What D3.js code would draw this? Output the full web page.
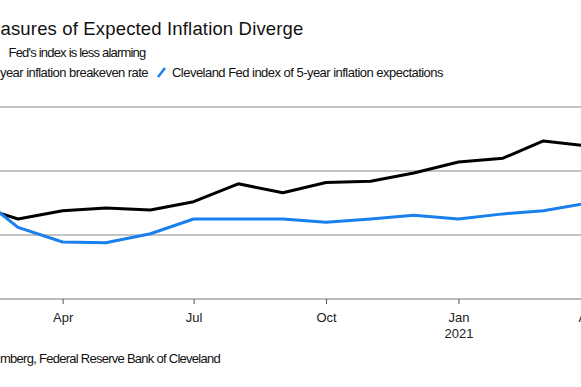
<!DOCTYPE html>
<html>
<head>
<meta charset="utf-8">
<script src="https://cdn.jsdelivr.net/npm/d3@7"></script>
<style>
  body { margin: 0; background: #fff; overflow: hidden; }
  svg { display: block; font-family: "Liberation Sans", Arial, sans-serif; }
  text { white-space: pre; }
</style>
</head>
<body>
<svg id="chart" width="581" height="387"></svg>
<script>
// monthly observations, first of month
const months = ["2020-02-01","2020-03-01","2020-04-01","2020-05-01","2020-06-01","2020-07-01","2020-08-01",
  "2020-09-01","2020-10-01","2020-11-01","2020-12-01","2021-01-01","2021-02-01","2021-03-01","2021-04-01"];
const breakeven = [1.73, 1.625, 1.69, 1.71, 1.695, 1.76, 1.90, 1.83, 1.91, 1.92, 1.985, 2.07, 2.10, 2.235, 2.195];
const clevelandFed = [1.82, 1.56, 1.445, 1.44, 1.51, 1.625, 1.625, 1.625, 1.60, 1.625, 1.655, 1.625, 1.665, 1.69, 1.75];
const gridValues = [1.0, 1.5, 2.0, 2.5];
const tickDates = ["2020-04-01","2020-07-01","2020-10-01","2021-01-01","2021-04-01"];

const parse = d3.timeParse("%Y-%m-%d");
const svg = d3.select("#chart");

const x = d3.scaleTime()
  .domain([parse("2020-03-01"), parse("2021-04-01")])
  .range([18, 588]);
const y = d3.scaleLinear()
  .domain([1.0, 2.5])
  .range([299, 107]);

// gridlines
svg.append("g")
  .selectAll("line")
  .data(gridValues)
  .join("line")
  .attr("x1", -10).attr("x2", 600)
  .attr("y1", d => y(d)).attr("y2", d => y(d))
  .style("stroke", d => d === 1.0 ? "#777" : "#8a8a8a")
  .style("stroke-width", 1.2);

// x axis
const xAxis = d3.axisBottom(x)
  .tickValues(tickDates.map(parse))
  .tickSize(5)
  .tickPadding(9)
  .tickFormat(d => d3.timeFormat("%b")(d));
const gx = svg.append("g")
  .attr("transform", "translate(0," + y(1.0) + ")")
  .call(xAxis);
gx.select(".domain").remove();
gx.selectAll(".tick line").style("stroke", "#555");
gx.selectAll(".tick text")
  .style("font-size", "13px")
  .style("fill", "#222")
  .style("font-family", "Liberation Sans, Arial, sans-serif");
gx.selectAll(".tick")
  .filter(d => d.getMonth() === 0)
  .append("text")
  .attr("y", 39)
  .attr("text-anchor", "middle")
  .style("font-size", "13px")
  .style("fill", "#222")
  .text(d => d.getFullYear());

// lines
const line = d3.line()
  .x(d => x(parse(d[0])))
  .y(d => y(d[1]));

svg.append("path")
  .datum(d3.zip(months, breakeven))
  .attr("d", line)
  .style("fill", "none")
  .style("stroke", "#000")
  .style("stroke-width", 3)
  .style("stroke-linejoin", "round");

svg.append("path")
  .datum(d3.zip(months, clevelandFed))
  .attr("d", line)
  .style("fill", "none")
  .style("stroke", "#1a80ee")
  .style("stroke-width", 3)
  .style("stroke-linejoin", "round");

// text cut off at the left edge: the hidden start is drawn ending just
// left of the window, the shown rest starting at visibleX; letter-spacing
// squeezes the shown part to the width it has in the reference
function clipped(hidden, shown, visibleX, width, baseline, size) {
  const t = svg.append("text")
    .attr("x", visibleX)
    .attr("y", baseline)
    .style("font-size", size + "px")
    .style("fill", "#111")
    .text(shown);
  const w = t.node().getComputedTextLength();
  const ls = (width - w) / shown.length;
  t.style("letter-spacing", ls + "px");
  if (hidden.length) {
    svg.append("text")
      .attr("x", Math.min(visibleX, 0) - 3)
      .attr("y", baseline)
      .attr("text-anchor", "end")
      .style("font-size", size + "px")
      .style("letter-spacing", ls + "px")
      .style("fill", "#111")
      .text(hidden);
  }
  return t;
}

clipped("Me", "asures of Expected Inflation Diverge", 0.5, 303, 35, 18.5);
clipped("Cleveland", "Fed's index is less alarming", 8.5, 137, 56.5, 13);
clipped("5-", "year inflation breakeven rate", 0, 148, 77, 13);
clipped("", "Cleveland Fed index of 5-year inflation expectations", 172, 271, 77, 13);
clipped("Source: Bloo", "mberg, Federal Reserve Bank of Cleveland", 0, 220, 363, 13);

svg.append("line")
  .attr("x1", -30).attr("y1", 77).attr("x2", -23).attr("y2", 68)
  .style("stroke", "#000").style("stroke-width", 2.5);

svg.append("line")
  .attr("x1", 158).attr("y1", 77).attr("x2", 165).attr("y2", 68)
  .style("stroke", "#1a80ee").style("stroke-width", 2.5);
</script>
</body>
</html>
